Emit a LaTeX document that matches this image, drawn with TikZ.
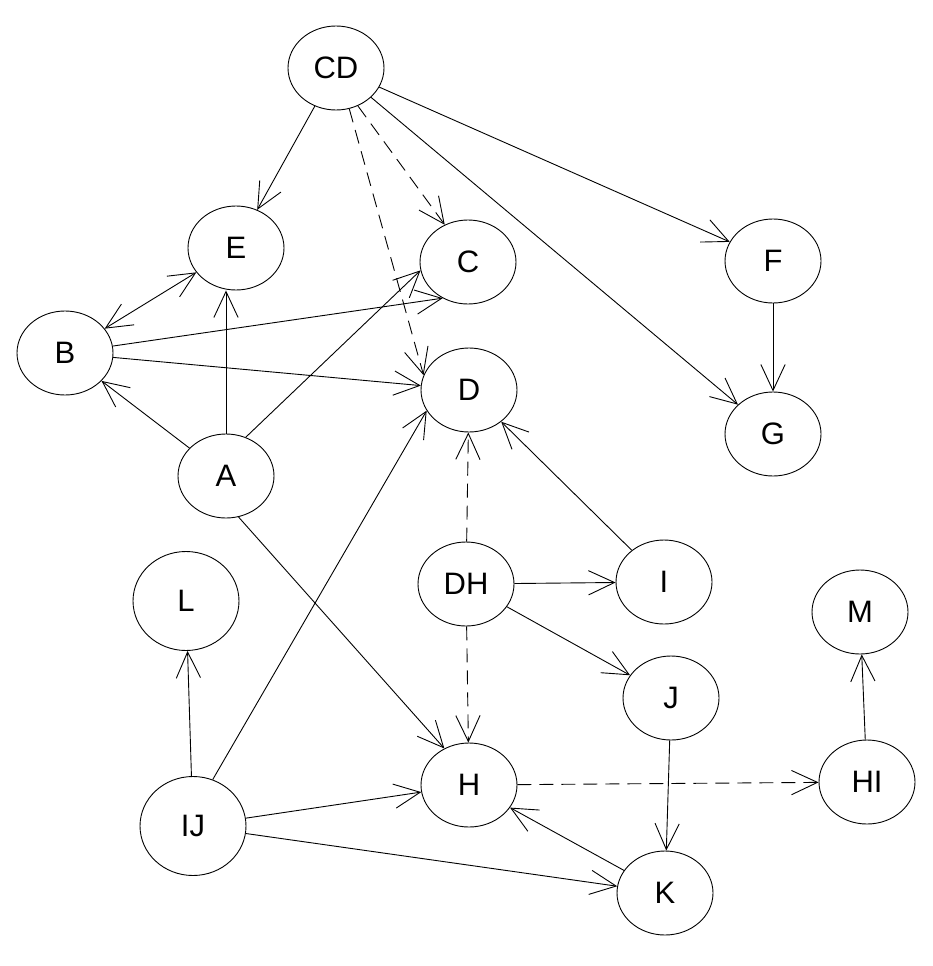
\documentclass[tikz,border=0pt]{standalone}
\usepackage{fontspec}
\setmainfont{Liberation Sans}
\usetikzlibrary{shapes.geometric,arrows.meta}

\begin{document}
\begin{tikzpicture}[x=1pt,y=-1pt,line width=0.9pt,
  >={Straight Barb[length=26pt,width=24pt,angle'=50]},
  vertex/.style={draw, ellipse, inner sep=0pt, minimum width=96pt, minimum height=84pt, font=\fontsize{31}{31}\selectfont},
  bigvertex/.style={vertex, minimum width=106pt, minimum height=99pt},
  dashline/.style={dash pattern=on 14pt off 8pt}]
\useasboundingbox (0,0) rectangle (932,966);

\node[vertex] (CD) at (336,68) {CD};
\node[vertex] (E) at (236,248) {E};
\node[vertex] (C) at (468,262) {C};
\node[vertex] (B) at (65,353) {B};
\node[vertex] (D) at (469,390) {D};
\node[vertex] (F) at (773,261) {F};
\node[vertex] (G) at (773,434) {G};
\node[vertex] (A) at (226,476) {A};

\node[vertex] (DH) at (466,584) {DH};
\node[vertex] (I) at (664,582) {I};
\node[bigvertex] (L) at (186,601) {L};
\node[vertex] (M) at (860,612) {M};
\node[vertex] (J) at (671,698) {J};

\node[vertex] (H) at (469,785) {H};
\node[vertex] (HI) at (867,782) {HI};
\node[bigvertex] (IJ) at (193,826) {IJ};
\node[vertex] (K) at (665,893) {K};

\path[draw,->] (CD) -- (E);
\path[draw,->,dashline] (CD.300) -- (C.122);
\path[draw,->,dashline] (CD.288) -- (D.162);
\path[draw,->] (CD) -- (F);
\path[draw,->] (CD) -- (G);
\path[draw,<->] (B) -- (E);
\path[draw,->] (B) -- (C.235);
\path[draw,->] (B) -- (D);
\path[draw,->] (A) -- (B);
\path[draw,->] (A) -- (A |- E.south);
\path[draw,->] (A.63) -- (C.190);
\path[draw,->] (A.287) -- (H.124);
\path[draw,->] (F) -- (G);

\path[draw,->,dashline] (DH) -- (D);
\path[draw,->,dashline] (DH) -- (H);
\path[draw,->] (DH) -- (I);
\path[draw,->] (DH) -- (J);
\path[draw,->] (I) -- (D);
\path[draw,->] (J) -- (K);
\path[draw,->] (K) -- (H);
\path[draw,->,dashline] (H) -- (HI);
\path[draw,->] (HI) -- (M);

\path[draw,->] (IJ) -- (L);
\path[draw,->] (IJ.67) -- (D.206);
\path[draw,->] (IJ) -- (H);
\path[draw,->] (IJ) -- (K);
\end{tikzpicture}
\end{document}
